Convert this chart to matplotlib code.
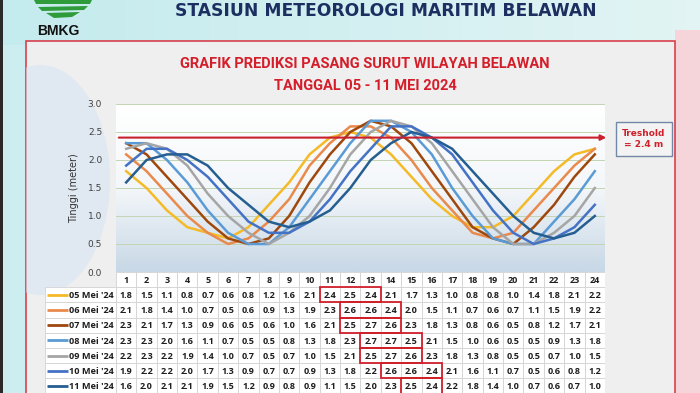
import numpy as np
import matplotlib.pyplot as plt
from matplotlib.patches import Rectangle, Ellipse, Polygon
from matplotlib.colors import LinearSegmentedColormap

# tide prediction (meter) per hour, 05 - 11 Mei 2024
hours = list(range(1, 25))
dates = ["05 Mei '24", "06 Mei '24", "07 Mei '24", "08 Mei '24",
         "09 Mei '24", "10 Mei '24", "11 Mei '24"]
mei_05 = [1.8, 1.5, 1.1, 0.8, 0.7, 0.6, 0.8, 1.2, 1.6, 2.1, 2.4, 2.5,
          2.4, 2.1, 1.7, 1.3, 1.0, 0.8, 0.8, 1.0, 1.4, 1.8, 2.1, 2.2]
mei_06 = [2.1, 1.8, 1.4, 1.0, 0.7, 0.5, 0.6, 0.9, 1.3, 1.9, 2.3, 2.6,
          2.6, 2.4, 2.0, 1.5, 1.1, 0.7, 0.6, 0.7, 1.1, 1.5, 1.9, 2.2]
mei_07 = [2.3, 2.1, 1.7, 1.3, 0.9, 0.6, 0.5, 0.6, 1.0, 1.6, 2.1, 2.5,
          2.7, 2.6, 2.3, 1.8, 1.3, 0.8, 0.6, 0.5, 0.8, 1.2, 1.7, 2.1]
mei_08 = [2.3, 2.3, 2.0, 1.6, 1.1, 0.7, 0.5, 0.5, 0.8, 1.3, 1.8, 2.3,
          2.7, 2.7, 2.5, 2.1, 1.5, 1.0, 0.6, 0.5, 0.5, 0.9, 1.3, 1.8]
mei_09 = [2.2, 2.3, 2.2, 1.9, 1.4, 1.0, 0.7, 0.5, 0.7, 1.0, 1.5, 2.1,
          2.5, 2.7, 2.6, 2.3, 1.8, 1.3, 0.8, 0.5, 0.5, 0.7, 1.0, 1.5]
mei_10 = [1.9, 2.2, 2.2, 2.0, 1.7, 1.3, 0.9, 0.7, 0.7, 0.9, 1.3, 1.8,
          2.2, 2.6, 2.6, 2.4, 2.1, 1.6, 1.1, 0.7, 0.5, 0.6, 0.8, 1.2]
mei_11 = [1.6, 2.0, 2.1, 2.1, 1.9, 1.5, 1.2, 0.9, 0.8, 0.9, 1.1, 1.5,
          2.0, 2.3, 2.5, 2.4, 2.2, 1.8, 1.4, 1.0, 0.7, 0.6, 0.7, 1.0]
series = [mei_05, mei_06, mei_07, mei_08, mei_09, mei_10, mei_11]
colors = ['#F4BA28', '#E98A4C', '#9E480E', '#5B9BD5', '#A5A5A5', '#4472C4', '#255E91']
threshold = 2.4

W, H = 700, 393
fig = plt.figure(figsize=(7, 3.93), dpi=100)
fig.patch.set_facecolor('#CDEEF1')


def box(x0, y0, x1, y1):
    # pixel box (top-left origin) -> figure rect
    return [x0 / W, 1 - y1 / H, (x1 - x0) / W, (y1 - y0) / H]


# ---- background / frame ----
bg = fig.add_axes([0, 0, 1, 1])
bg.set_xlim(0, W)
bg.set_ylim(H, 0)
bg.axis('off')
sky = LinearSegmentedColormap.from_list('sky', ['#C4EBEE', '#E2F4F4'])
bg.imshow(np.linspace(0, 1, 50).reshape(1, -1), extent=[0, W, 45, 0],
          aspect='auto', cmap=sky, zorder=0)
bg.add_patch(Rectangle((675, 30), 30, 370, fc='#F6D5DA', ec='none', zorder=1))
panel = Rectangle((26, 41), 649, 360, fc='#EFEFEF', ec='#D8404B', lw=1.2, zorder=2)
bg.add_patch(panel)
blob = Ellipse((40, 180), 140, 230, fc='#D4E5F3', ec='none', alpha=0.55, zorder=2.1)
bg.add_patch(blob)
blob.set_clip_path(panel)
bg.add_patch(Rectangle((0, 0), 3, H, fc='#2A2A2A', ec='none', zorder=3))

# BMKG logo (rough)
green = '#2F9C3B'
bg.add_patch(Polygon([[34, 0], [92, 0], [90, 4], [36, 4]], fc=green, ec='none', zorder=3))
bg.add_patch(Polygon([[38, 7], [88, 6], [84, 10], [42, 11]], fc=green, ec='none', zorder=3))
bg.add_patch(Polygon([[46, 13], [80, 12], [72, 17], [54, 18]], fc=green, ec='none', zorder=3))
bg.text(58, 31, 'BMKG', ha='center', va='center', fontsize=10, fontweight='bold',
        family='Liberation Sans', color='#111111', zorder=3)

bg.text(386, 11, 'STASIUN METEOROLOGI MARITIM BELAWAN', ha='center', va='center',
        fontsize=12.3, fontweight='bold', color='#1C2F60', zorder=3)
narrow = ['Liberation Sans Narrow', 'Roboto', 'DejaVu Sans']
bg.text(365, 64, 'GRAFIK PREDIKSI PASANG SURUT WILAYAH BELAWAN', ha='center',
        va='center', fontsize=10.5, fontweight='bold', family=narrow,
        color='#D41F2B', zorder=3)
bg.text(365, 86, 'TANGGAL 05 - 11 MEI 2024', ha='center', va='center',
        fontsize=10.5, fontweight='bold', family=narrow, color='#D41F2B', zorder=3)

# threshold note
bg.add_patch(Rectangle((616, 122), 56, 34, fc='#F3F3F3', ec='#7189A6', lw=1, zorder=3))
bg.text(644, 139, 'Treshold\n= 2.4 m', ha='center', va='center', fontsize=6.5,
        fontweight='bold', color='#D0202A', linespacing=1.4, zorder=4)

# ---- chart ----
ax = fig.add_axes(box(116, 104, 605, 272))
ax.set_xlim(0.5, 24.5)
ax.set_ylim(0, 3)
fade = LinearSegmentedColormap.from_list('fade', ['#FFFFFF', '#F4F7FA', '#C8D8E6'])
ax.imshow(np.linspace(0, 1, 100).reshape(-1, 1), extent=[0.5, 24.5, 0, 3],
          aspect='auto', cmap=fade, zorder=0)
for v in np.arange(0.5, 3.01, 0.5):
    ax.axhline(v, color='#C3D4B4', lw=0.7, zorder=1)
for vals, c in zip(series, colors):
    ax.plot(hours, vals, color=c, lw=1.8, zorder=3)
ax.annotate('', xy=(24.7, threshold), xytext=(0.5, threshold),
            arrowprops=dict(arrowstyle='-|>', color='#C8202C', lw=1.5, mutation_scale=8),
            annotation_clip=False, zorder=4)
ax.set_xticks([])
ax.set_yticks(np.arange(0, 3.01, 0.5))
ax.set_yticklabels([f'{v:.1f}' for v in np.arange(0, 3.01, 0.5)])
ax.tick_params(axis='y', length=0, labelsize=6.5, colors='#404040', pad=10)
ax.set_ylabel('Tinggi (meter)', fontsize=7, color='#333333', labelpad=6)
for s in ax.spines.values():
    s.set_visible(False)

# ---- data table ----
col_w = (605 - 116) / 24
x_left = 0.5 - (116 - 45) / col_w
tb = fig.add_axes(box(45, 272, 605, 272 + 8 * 15.2))
tb.set_xlim(x_left, 24.5)
tb.set_ylim(8, 0)
tb.axis('off')
grid_c = '#D3D3D3'
txt_c = '#1E1E1E'
tfont = ['Open Sans', 'DejaVu Sans']
for j in hours:
    tb.add_patch(Rectangle((j - 0.5, 0), 1, 1, fc='white', ec=grid_c, lw=0.6))
    tb.text(j, 0.55, str(j), ha='center', va='center', fontsize=6.5,
            fontweight='bold', family=tfont, color=txt_c)
for i, (lab, vals, c) in enumerate(zip(dates, series, colors)):
    y = i + 1
    tb.add_patch(Rectangle((x_left, y), 0.5 - x_left, 1, fc='white', ec=grid_c, lw=0.6))
    tb.plot([x_left + 0.1, x_left + 1.15], [y + 0.5, y + 0.5], color=c, lw=2,
            solid_capstyle='butt')
    tb.text(0.38, y + 0.55, lab, ha='right', va='center', fontsize=6.6,
            fontweight='bold', family=tfont, color=txt_c)
    for j, v in zip(hours, vals):
        tb.add_patch(Rectangle((j - 0.5, y), 1, 1, fc='white', ec=grid_c, lw=0.6))
        tb.text(j, y + 0.55, f'{v:.1f}', ha='center', va='center', fontsize=6.5,
                fontweight='bold', family=tfont, color=txt_c)
    high = [j for j, v in zip(hours, vals) if v >= threshold]
    if high:
        tb.add_patch(Rectangle((min(high) - 0.5, y), max(high) - min(high) + 1, 1,
                               fc='none', ec='#D0202A', lw=1.3, zorder=5))

fig.savefig('out.png', dpi=100)
